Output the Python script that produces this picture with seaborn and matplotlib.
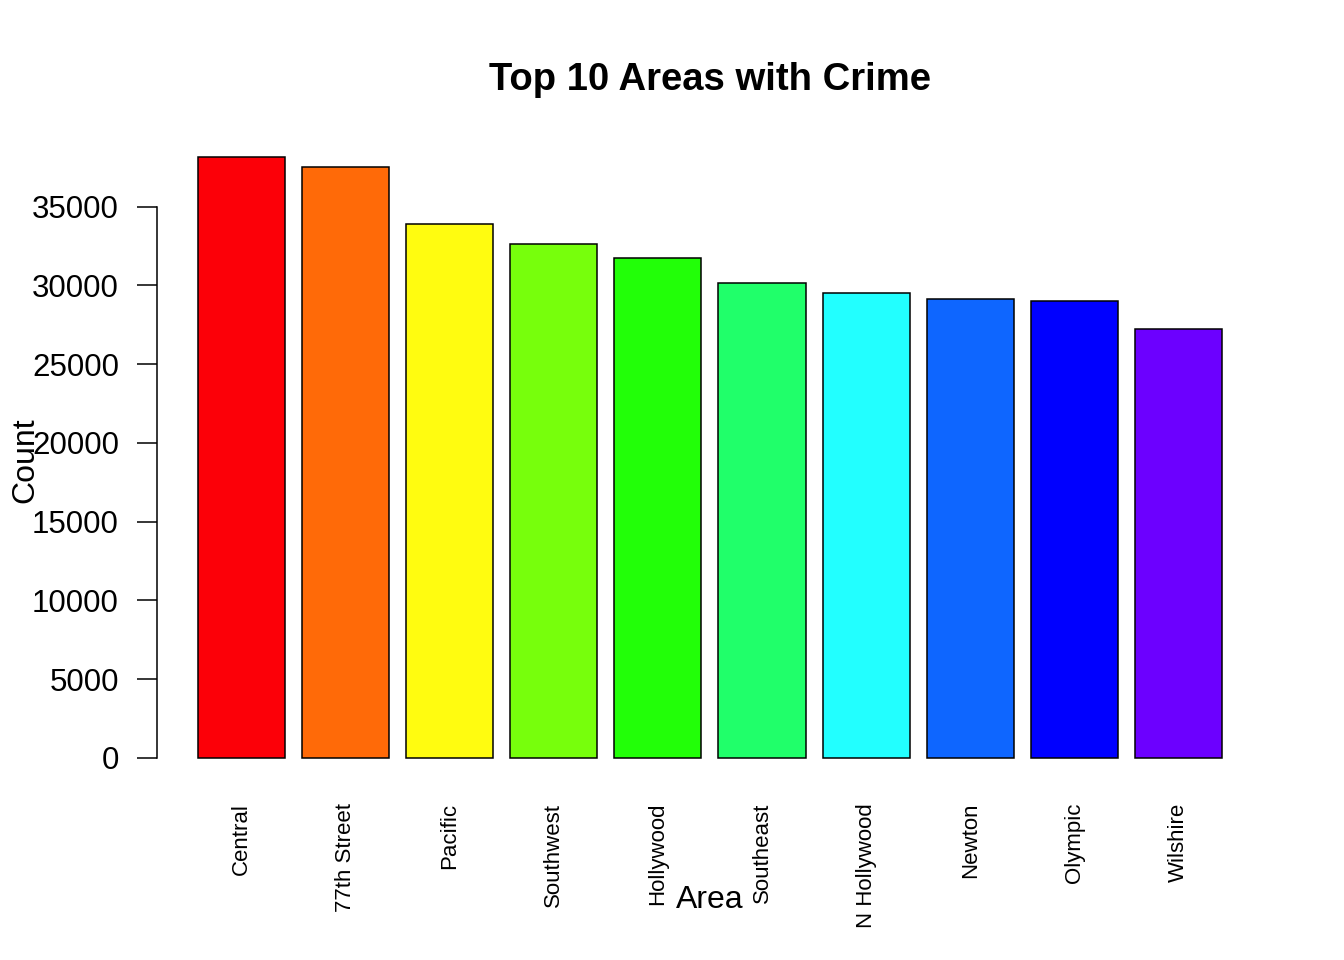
import numpy as np
import pandas as pd
import seaborn as sns
import matplotlib
matplotlib.use("Agg")
import matplotlib.pyplot as plt

# top 10 areas by number of crimes
areas = ['Central', '77th Street', 'Pacific', 'Southwest', 'Hollywood',
         'Southeast', 'N Hollywood', 'Newton', 'Olympic', 'Wilshire']
counts = [38150, 37520, 33900, 32640, 31740, 30170, 29530, 29150, 29040, 27250]
bar_colors = ['#FC0008', '#FF6A08', '#FFFC10', '#77FF0C', '#22FF08',
              '#20FF6A', '#22FFFF', '#0E66FF', '#0000FF', '#6C00FF']
y_ticks = [0, 5000, 10000, 15000, 20000, 25000, 30000, 35000]

df = pd.DataFrame({'Area': areas, 'Count': counts})

sns.set_style('white')
plt.rcParams['font.family'] = ['Liberation Sans', 'DejaVu Sans']
plt.rcParams['text.color'] = 'black'
plt.rcParams['xtick.color'] = 'black'
plt.rcParams['ytick.color'] = 'black'

fig = plt.figure(figsize=(13.44, 9.6), dpi=100)
ax = fig.add_axes([0.1168, 0.1854, 0.8229, 0.6761])

sns.barplot(data=df, x='Area', y='Count', hue='Area', palette=bar_colors,
            legend=False, width=0.837, edgecolor='black', linewidth=1.1,
            saturation=1, ax=ax)

ax.set_xlim(-0.8125, 9.8125)
ymax = max(counts)
ax.set_ylim(-0.04 * ymax, 1.04 * ymax)

for s in ['top', 'right', 'bottom']:
    ax.spines[s].set_visible(False)
ax.spines['left'].set_bounds(0, 35000)
ax.spines['left'].set_linewidth(1.1)
ax.spines['left'].set_color('black')

ax.set_yticks(y_ticks)
ax.set_yticklabels([str(t) for t in y_ticks], fontsize=22.5)
ax.tick_params(axis='y', direction='out', length=14.4, width=1.1,
               pad=13, left=True, color='black', labelcolor='black')
ax.tick_params(axis='x', length=0, pad=15, labelcolor='black')
ax.set_xticks(range(len(areas)))
ax.set_xticklabels(areas, rotation=90, fontsize=16, va='top', ha='center')

ax.set_xlabel('')
ax.set_ylabel('')
fig.text(0.528, 1 - 900 / 960, 'Area', fontsize=23, ha='center', va='center')
fig.text(25 / 1344, 1 - 460 / 960, 'Count', fontsize=23, ha='center',
         va='center', rotation=90)
fig.text(0.528, 1 - 80 / 960, 'Top 10 Areas with Crime', fontsize=27.5,
         fontweight='bold', ha='center', va='center')

fig.savefig('out.png', dpi=100, facecolor='white')
